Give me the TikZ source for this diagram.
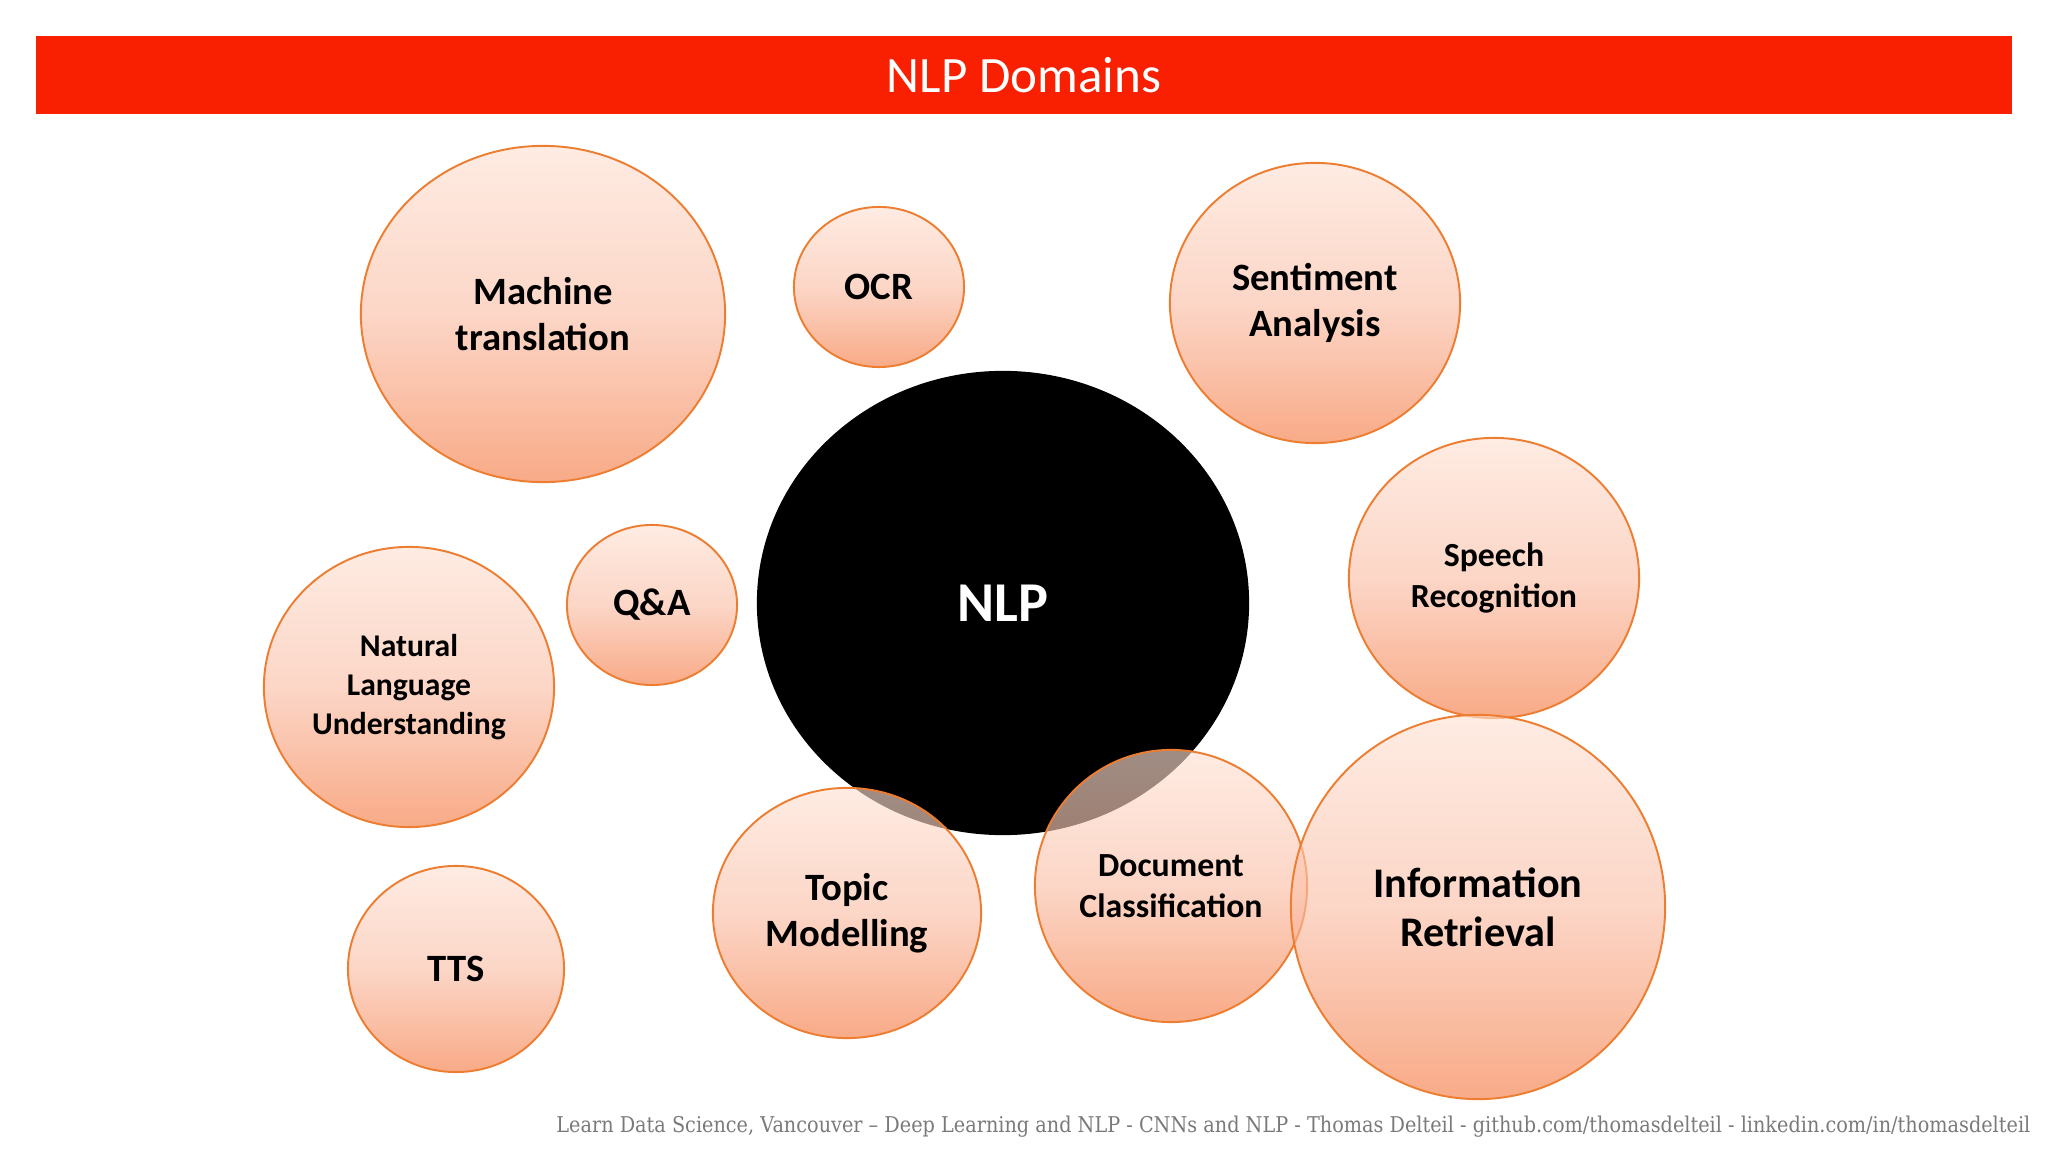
\documentclass[tikz,border=0pt]{standalone}
\usepackage{fontspec}
\setmainfont{Carlito}
\newfontfamily\footfont{DejaVu Serif}
\usetikzlibrary{shapes.geometric}

\definecolor{bannerred}{RGB}{248,32,0}
\definecolor{bubbleline}{RGB}{237,125,49}
\definecolor{bubbletop}{RGB}{254,224,210}
\definecolor{bubblemid}{RGB}{250,190,166}
\definecolor{bubblebot}{RGB}{244,121,65}
\definecolor{footgray}{RGB}{122,122,122}

\begin{document}
\begin{tikzpicture}[x=0.01cm, y=-0.01cm,
  bubble/.style 2 args={ellipse, draw=bubbleline, line width=0.55pt,
    top color=bubbletop, bottom color=bubblebot, middle color=bubblemid,
    fill opacity=0.63, text opacity=1, inner sep=0pt, align=center,
    minimum width=#1*0.02cm, minimum height=#2*0.02cm,
    font=\bfseries\fontsize{11pt}{13pt}\selectfont},
  small/.style={font=\bfseries\fontsize{9.6pt}{11.6pt}\selectfont}]
  \useasboundingbox (0,0) rectangle (2048,1152);

  \node [fill=bannerred, minimum width=19.74cm, minimum height=0.78cm, inner sep=0pt,
    text=white, font=\fontsize{14.5pt}{17pt}\selectfont] (banner) at (1024,75) {NLP Domains};

  \node [ellipse, fill=black, minimum width=4.92cm, minimum height=4.64cm, inner sep=0pt,
    text=white, font=\bfseries\fontsize{16pt}{19pt}\selectfont] (nlp) at (1003,603) {NLP};

  \node [bubble={182}{168}] (mt) at (543,314) {Machine\\translation};
  \node [bubble={85}{80}] (ocr) at (879,287) {OCR};
  \node [bubble={145}{140}] (sa) at (1315,303) {Sentiment\\Analysis};
  \node [bubble={145}{140}, small] (sr) at (1494,578) {Speech\\Recognition};
  \node [bubble={85}{80}] (qa) at (652,605) {Q\&A};
  \node [bubble={145}{140}, font=\bfseries\fontsize{9pt}{11pt}\selectfont] (nlu) at (409,687)
    {Natural\\Language\\Understanding};
  \node [bubble={108}{103}] (tts) at (456,969) {TTS};
  \node [bubble={134}{125}] (tm) at (847,913) {Topic\\Modelling};
  \node [bubble={136}{136}, small] (dc) at (1171,886) {Document\\Classification};
  \node [bubble={187}{192}, font=\bfseries\fontsize{12pt}{14pt}\selectfont] (ir) at (1478,907)
    {Information\\Retrieval};

  \node [anchor=base east, inner sep=0pt, text=footgray] (footer) at (2031,1132)
    {\resizebox{14.73cm}{0.165cm}{\footfont Learn Data Science, Vancouver – Deep Learning and NLP - CNNs and NLP - Thomas Delteil - github.com/thomasdelteil - linkedin.com/in/thomasdelteil}};
\end{tikzpicture}
\end{document}
